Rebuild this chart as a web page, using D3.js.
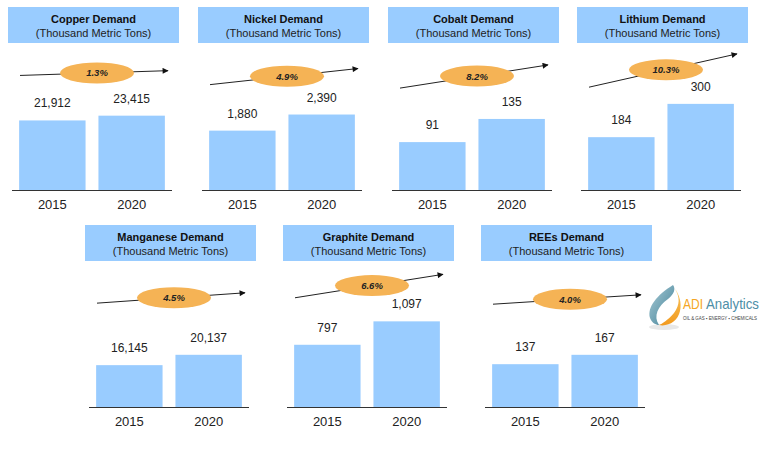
<!DOCTYPE html>
<html>
<head>
<meta charset="utf-8">
<script src="https://cdn.jsdelivr.net/npm/d3@7"></script>
<style>
  body { margin: 0; background: #fff; }
  text { font-family: "Liberation Sans", Arial, sans-serif; }
</style>
</head>
<body>
<div class="canvas"></div>
<script>
// Data
const metals = ["Copper", "Nickel", "Cobalt", "Lithium", "Manganese", "Graphite", "REEs"];
const years = ["2015", "2020"];
const demand2015 = [21912, 1880, 91, 184, 16145, 797, 137];
const demand2020 = [23415, 2390, 135, 300, 20137, 1097, 167];
const cagr = ["1.3%", "4.9%", "8.2%", "10.3%", "4.5%", "6.6%", "4.0%"];
const axisMax = [37800, 3800, 228, 418, 46300, 1537, 384];
const unitLabel = "(Thousand Metric Tons)";

// Layout
const dims = { width: 768, height: 452, boxW: 171, boxH: 36, plotH: 120 };
const panelX = [8, 198, 388, 577, 85, 283, 481];
const panelRow = [0, 0, 0, 0, 1, 1, 1];
const rowTop = [7, 225];
const rowBase = [190, 407];
const arrowLift = [45, 46, 54, 50, 62, 47, 60];

const colors = { bar: "#99ccff", box: "#99ccff", oval: "#f5b355", text: "#222" };

const svg = d3
  .select(".canvas")
  .append("svg")
  .attr("width", dims.width)
  .attr("height", dims.height);

const defs = svg.append("defs");
defs
  .append("marker")
  .attr("id", "arrow")
  .attr("viewBox", "0 0 10 10")
  .attr("refX", 9)
  .attr("refY", 5)
  .attr("markerWidth", 8)
  .attr("markerHeight", 6)
  .attr("markerUnits", "userSpaceOnUse")
  .attr("orient", "auto")
  .append("path")
  .attr("d", "M0,0 L10,5 L0,10 Z")
  .attr("fill", "#111");

const fmt = d3.format(",");

metals.forEach((metal, i) => {
  const x0 = panelX[i];
  const row = panelRow[i];
  const top = rowTop[row];
  const base = rowBase[row];
  const values = [demand2015[i], demand2020[i]];

  const g = svg.append("g").attr("transform", `translate(${x0}, 0)`);

  // Header box
  g.append("rect")
    .attr("x", 0)
    .attr("y", top)
    .attr("width", dims.boxW)
    .attr("height", dims.boxH)
    .attr("fill", colors.box);

  g.append("text")
    .attr("x", dims.boxW / 2)
    .attr("y", top + 16)
    .attr("text-anchor", "middle")
    .attr("font-size", 11)
    .attr("font-weight", "bold")
    .attr("fill", "#111")
    .text(`${metal} Demand`);

  g.append("text")
    .attr("x", dims.boxW / 2)
    .attr("y", top + 30)
    .attr("text-anchor", "middle")
    .attr("font-size", 11)
    .attr("fill", "#222")
    .text(unitLabel);

  // Scales
  const x = d3
    .scaleBand()
    .domain(years)
    .range([4, 164])
    .paddingInner(0.1625)
    .paddingOuter(0.09);

  const y = d3
    .scaleLinear()
    .domain([0, axisMax[i]])
    .range([base, base - dims.plotH]);

  // Bars
  g.selectAll("rect.bar")
    .data(values)
    .enter()
    .append("rect")
    .attr("class", "bar")
    .attr("x", (d, j) => x(years[j]))
    .attr("y", (d) => y(d))
    .attr("width", x.bandwidth())
    .attr("height", (d) => base - y(d))
    .attr("fill", colors.bar);

  // Value labels
  g.selectAll("text.val")
    .data(values)
    .enter()
    .append("text")
    .attr("class", "val")
    .attr("x", (d, j) => x(years[j]) + x.bandwidth() / 2)
    .attr("y", (d) => y(d) - 13)
    .attr("text-anchor", "middle")
    .attr("font-size", 12)
    .attr("fill", colors.text)
    .text((d) => fmt(d));

  // Axis
  const axis = g
    .append("g")
    .attr("transform", `translate(0, ${base})`)
    .call(d3.axisBottom(x).tickSize(0).tickPadding(10));
  axis.select(".domain").attr("stroke", "#333").attr("stroke-width", 1).attr("d", "M4,0.5H164");
  axis
    .selectAll("text")
    .attr("font-size", 13)
    .attr("fill", colors.text)
    .attr("font-family", "Liberation Sans, Arial, sans-serif");

  // Growth arrow
  const ax1 = 12;
  const ax2 = 160;
  const ay1 = y(values[0]) - arrowLift[i];
  const ay2 = y(values[1]) - arrowLift[i];

  g.append("line")
    .attr("x1", ax1)
    .attr("y1", ay1)
    .attr("x2", ax2)
    .attr("y2", ay2)
    .attr("stroke", "#222")
    .attr("stroke-width", 1)
    .attr("marker-end", "url(#arrow)");

  const cx = 89;
  const cy = ay1 + ((cx - ax1) / (ax2 - ax1)) * (ay2 - ay1);

  g.append("ellipse")
    .attr("cx", cx)
    .attr("cy", cy)
    .attr("rx", 37)
    .attr("ry", 10.5)
    .attr("fill", colors.oval);

  g.append("text")
    .attr("x", cx)
    .attr("y", cy + 3.5)
    .attr("text-anchor", "middle")
    .attr("font-size", 9.5)
    .attr("font-weight", "bold")
    .attr("font-style", "italic")
    .attr("fill", "#222")
    .text(cagr[i]);
});

// Logo
const logo = svg.append("g").attr("transform", "translate(647, 285)");

const blueGrad = defs.append("linearGradient").attr("id", "blueGrad").attr("x1", 0).attr("y1", 0).attr("x2", 1).attr("y2", 1);
blueGrad.append("stop").attr("offset", "0%").attr("stop-color", "#a9cbd6");
blueGrad.append("stop").attr("offset", "100%").attr("stop-color", "#3f7f95");

const orangeGrad = defs.append("linearGradient").attr("id", "orangeGrad").attr("x1", 0).attr("y1", 0).attr("x2", 0).attr("y2", 1);
orangeGrad.append("stop").attr("offset", "0%").attr("stop-color", "#f7c35a");
orangeGrad.append("stop").attr("offset", "100%").attr("stop-color", "#f29a1f");

logo.append("ellipse")
  .attr("cx", 17)
  .attr("cy", 42)
  .attr("rx", 15)
  .attr("ry", 3)
  .attr("fill", "#e8e8e8");

logo.append("path")
  .attr("d", "M26,0 C10,10 0,22 3,33 C5,38 9,40 12,40 C6,31 11,21 21,14 C27,9 29,4 26,0 Z")
  .attr("fill", "url(#blueGrad)");

logo.append("path")
  .attr("d", "M28,4 C33,12 33,20 27,28 C21,35 15,39 12,40 C21,42 31,36 33,26 C35,18 32,9 28,4 Z")
  .attr("fill", "url(#orangeGrad)");

logo.append("text")
  .attr("x", 36)
  .attr("y", 24)
  .attr("font-size", 15)
  .attr("textLength", 20)
  .attr("lengthAdjust", "spacingAndGlyphs")
  .attr("fill", "#f5a623")
  .text("ADI");

logo.append("text")
  .attr("x", 59)
  .attr("y", 24)
  .attr("font-size", 15)
  .attr("textLength", 53)
  .attr("lengthAdjust", "spacingAndGlyphs")
  .attr("fill", "#4d8ea6")
  .text("Analytics");

logo.append("text")
  .attr("x", 36)
  .attr("y", 35)
  .attr("font-size", 4.6)
  .attr("textLength", 74)
  .attr("lengthAdjust", "spacingAndGlyphs")
  .attr("fill", "#444")
  .text("OIL & GAS  \u25AA  ENERGY  \u25AA  CHEMICALS");
</script>
</body>
</html>
